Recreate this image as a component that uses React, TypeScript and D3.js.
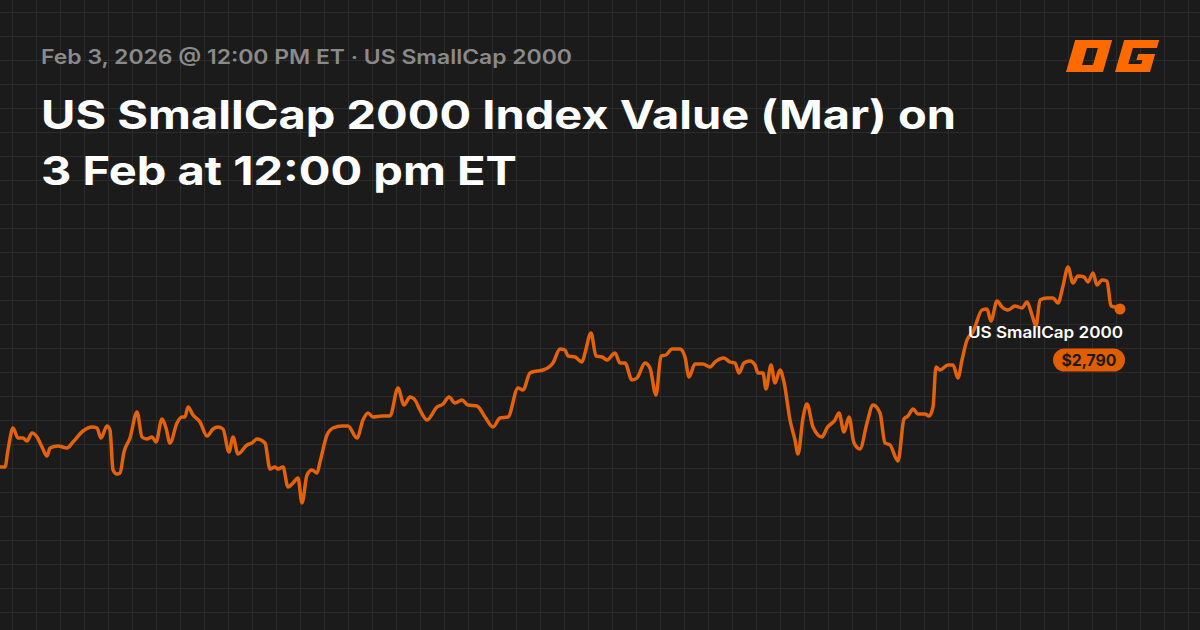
import React, { useEffect, useRef } from 'react';
import * as d3 from 'd3';

// Index value samples: session offset in days and the futures level at that moment
const dayOffsets = [
  0, 0.5, 0.8, 1.3, 1.8, 2.3, 2.7, 3.2, 3.7, 4.2, 4.7, 5.0, 5.8, 6.7, 7.3, 8.3, 9.2, 9.7, 10.1, 10.7,
  11.0, 11.3, 11.7, 12.0, 12.4, 13.0, 13.7, 14.2, 14.7, 15.2, 15.6, 16.2, 16.6, 17.0, 17.7, 18.2, 18.5,
  18.8, 19.3, 20.0, 20.7, 21.3, 21.8, 22.3, 22.9, 23.3, 23.8, 24.7, 25.2, 25.7, 26.5, 27.0, 27.5, 27.8,
  28.3, 28.8, 29.3, 29.8, 30.2, 30.7, 31.2, 31.7,
  32.0, 32.7, 33.3, 34.2, 34.8, 35.7, 36.3, 36.8, 37.3, 38.2, 39.0, 39.8, 40.4, 41.0, 41.5, 42.0, 42.7,
  43.7, 44.3, 44.9, 45.5, 46.2, 46.8, 47.7, 48.5, 49.3, 50.0, 50.8, 51.8, 52.3, 53.0, 53.7, 54.3, 55.3,
  56.0, 56.5, 56.8, 57.5, 58.2, 58.5, 59.1, 59.6, 60.2,
  60.7, 61.5, 62.0, 62.5, 63.2, 63.7, 64.5, 65.0, 65.6, 66.1, 66.6, 67.2, 68.0, 68.5, 68.9, 69.5, 70.3,
  71.0, 71.5, 72.4, 73.0, 73.5, 73.9, 74.4, 75.0, 75.5, 75.8, 76.3, 76.6, 77.1, 77.5, 78.0, 78.4, 79.0,
  79.5, 79.8, 80.3, 80.7, 81.3, 82.2, 82.7, 83.5, 83.9, 84.4, 84.9, 85.4, 86.0, 86.7, 87.3, 88.0, 88.5,
  89.0, 89.8, 90.4, 90.8, 91.3, 91.8, 92.5, 92.9, 93.3, 93.6, 94.0,
  94.8, 95.3, 95.8, 96.2, 96.7, 97.3, 98.2, 98.7, 99.1, 99.7, 100.2, 100.8, 101.5, 102.2, 102.7, 103.2,
  103.6, 104.0, 104.7, 105.3, 105.8, 106.3, 106.8, 107.3, 107.8, 108.4, 108.8, 109.3, 109.7, 110.2,
  110.7, 111.1, 111.5, 112.0,
];

const indexValues = [
  2474, 2474, 2508, 2552, 2532, 2532, 2526, 2542, 2534, 2514, 2496, 2512, 2516, 2512, 2524, 2546, 2554,
  2552, 2532, 2556, 2548, 2468, 2460, 2462, 2504, 2532, 2584, 2534, 2530, 2534, 2524, 2570, 2552, 2522,
  2562, 2574, 2574, 2594, 2578, 2564, 2536, 2550, 2554, 2550, 2504, 2534, 2500, 2518, 2522, 2530, 2522,
  2470, 2474, 2470, 2474, 2434, 2442, 2452, 2402, 2458, 2468, 2462,
  2484, 2538, 2552, 2556, 2556, 2532, 2568, 2582, 2574, 2576, 2576, 2632, 2598, 2614, 2608, 2588, 2568,
  2594, 2600, 2614, 2602, 2608, 2598, 2596, 2574, 2554, 2572, 2574, 2632, 2628, 2662, 2666, 2668, 2682,
  2710, 2708, 2696, 2694, 2684, 2702, 2742, 2696, 2694,
  2688, 2702, 2682, 2682, 2648, 2652, 2682, 2672, 2618, 2696, 2698, 2710, 2710, 2694, 2654, 2680, 2680,
  2674, 2684, 2692, 2684, 2682, 2662, 2682, 2686, 2678, 2662, 2662, 2630, 2678, 2642, 2668, 2644, 2568,
  2528, 2500, 2572, 2600, 2554, 2534, 2552, 2568, 2582, 2544, 2574, 2522, 2510, 2562, 2598, 2582, 2522,
  2518, 2486, 2570, 2576, 2590, 2580, 2580, 2576, 2594, 2674, 2668,
  2678, 2678, 2652, 2688, 2728, 2744, 2788, 2790, 2766, 2806, 2794, 2788, 2796, 2792, 2804, 2778, 2756,
  2808, 2812, 2812, 2802, 2836, 2874, 2842, 2856, 2854, 2844, 2862, 2838, 2848, 2846, 2796, 2794, 2790,
];

const subtitle = 'Feb 3, 2026 @ 12:00 PM ET · US SmallCap 2000';
const titleLines = ['US SmallCap 2000 Index Value (Mar) on', '3 Feb at 12:00 pm ET'];
const titleWidths = [915, 476];
const seriesName = 'US SmallCap 2000';

const WIDTH = 1200;
const HEIGHT = 630;
const ORANGE = '#e4620a';
const FONT = 'Inter, "Noto Sans", sans-serif';

const App = () => {
  const ref = useRef<SVGSVGElement>(null);

  useEffect(() => {
    if (!ref.current) return;
    const svg = d3.select(ref.current);
    svg.selectAll('*').remove();

    // background and faint square grid
    svg.append('rect').attr('width', WIDTH).attr('height', HEIGHT).attr('fill', '#1b1b1b');
    const grid = svg.append('g').attr('stroke', '#2b2b2b').attr('stroke-width', 1);
    grid.selectAll('line.v')
      .data(d3.range(12, WIDTH, 24))
      .join('line')
      .attr('class', 'v')
      .attr('x1', d => d + 0.5).attr('x2', d => d + 0.5)
      .attr('y1', 0).attr('y2', HEIGHT);
    grid.selectAll('line.h')
      .data(d3.range(12, HEIGHT, 24))
      .join('line')
      .attr('class', 'h')
      .attr('x1', 0).attr('x2', WIDTH)
      .attr('y1', d => d + 0.5).attr('y2', d => d + 0.5);

    // header texts, stretched to the wide grotesque look
    svg.append('text')
      .attr('x', 41).attr('y', 64)
      .attr('fill', '#8a8a8a')
      .attr('font-family', FONT).attr('font-size', 20).attr('font-weight', 600)
      .attr('textLength', 531).attr('lengthAdjust', 'spacingAndGlyphs')
      .text(subtitle);
    svg.append('g')
      .selectAll('text')
      .data(titleLines)
      .join('text')
      .attr('x', 41).attr('y', (_, i) => 128.5 + i * 56)
      .attr('fill', '#ffffff')
      .attr('font-family', FONT).attr('font-size', 39.5).attr('font-weight', 700)
      .attr('textLength', (_, i) => titleWidths[i]).attr('lengthAdjust', 'spacingAndGlyphs')
      .text(d => d);

    // slanted block logo
    const logo = svg.append('g')
      .attr('fill', '#ff6a00')
      .attr('fill-rule', 'evenodd')
      .attr('transform', 'translate(0,72) skewX(-16) translate(0,-72)');
    logo.append('path').attr('d', 'M1066,40 H1103 V72 H1066 Z M1080,48 H1091 V65 H1080 Z');
    logo.append('path').attr('d', 'M1115,40 H1150 V48 H1126 V64 H1139 V60 H1133 V54 H1150 V72 H1115 Z');

    // scales
    const x = d3.scaleLinear().domain([0, 112]).range([0, 1120]);
    const y = d3.scaleLinear().domain([2300, 2900]).range([554, 254]);

    const points = dayOffsets.map((d, i) => [d, indexValues[i]] as [number, number]);
    const line = d3.line<[number, number]>()
      .x(d => x(d[0]))
      .y(d => y(d[1]))
      .curve(d3.curveMonotoneX);

    svg.append('path')
      .datum(points)
      .attr('d', line)
      .attr('fill', 'none')
      .attr('stroke', ORANGE)
      .attr('stroke-width', 3.5)
      .attr('stroke-linejoin', 'round')
      .attr('stroke-linecap', 'round');

    // end marker with series name and value badge
    const last = points[points.length - 1];
    const lx = x(last[0]);
    const ly = y(last[1]);
    svg.append('circle').attr('cx', lx).attr('cy', ly).attr('r', 5.5).attr('fill', ORANGE);

    svg.append('text')
      .attr('x', lx + 3).attr('y', ly + 29)
      .attr('text-anchor', 'end')
      .attr('fill', '#ffffff')
      .attr('font-family', FONT).attr('font-size', 15.5).attr('font-weight', 600)
      .attr('textLength', 155).attr('lengthAdjust', 'spacingAndGlyphs')
      .text(seriesName);

    const badge = svg.append('g');
    const label = `$${d3.format(',')(last[1])}`;
    badge.append('rect')
      .attr('x', lx + 5 - 72).attr('y', ly + 39.5)
      .attr('width', 72).attr('height', 23).attr('rx', 11.5)
      .attr('fill', '#e05d00');
    badge.append('text')
      .attr('x', lx + 5 - 36).attr('y', ly + 57)
      .attr('text-anchor', 'middle')
      .attr('fill', '#1b1b1b')
      .attr('font-family', FONT).attr('font-size', 16.5).attr('font-weight', 700)
      .attr('textLength', 55).attr('lengthAdjust', 'spacingAndGlyphs')
      .text(label);
  }, []);

  return (
    <div style={{ position: 'fixed', left: 0, top: 0, width: WIDTH, height: HEIGHT }}>
      <svg ref={ref} width={WIDTH} height={HEIGHT} style={{ display: 'block' }} />
    </div>
  );
};

export default App;
